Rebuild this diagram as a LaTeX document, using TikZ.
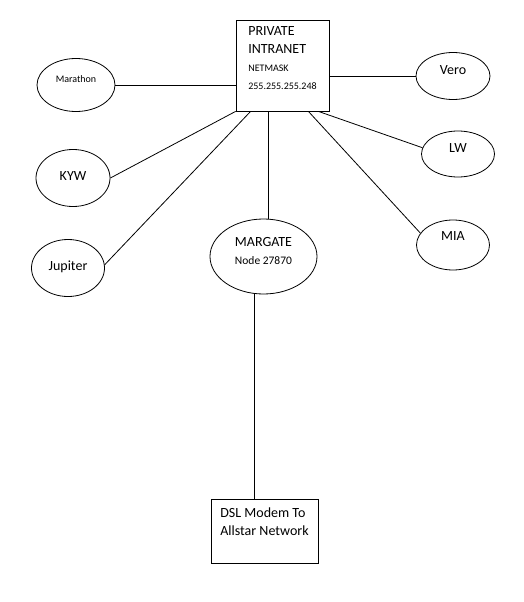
\documentclass[tikz,border=0pt]{standalone}
\usepackage{fontspec}
\setmainfont{Carlito}
\usetikzlibrary{shapes.geometric}
\newcommand\bigtxt{\fontsize{14}{18}\selectfont}
\newcommand\smalltxt{\fontsize{10}{15}\selectfont}

\begin{document}
\begin{tikzpicture}[x=1pt, y=-1pt, thick,
    host/.style={draw, ellipse, inner sep=0pt, text depth=12pt, font=\bigtxt},
    box/.style={draw, rectangle, align=left, inner sep=0pt, font=\bigtxt}]
  \useasboundingbox (0,0) rectangle (523,602);
  \node[box, minimum width=93pt, minimum height=91pt, text depth=15pt] (intr) at (282.5,65.5)
    {PRIVATE\\ INTRANET\\ \smalltxt NETMASK\\ \smalltxt 255.255.255.248};
  \node[host, minimum width=78pt, minimum height=53pt, font=\smalltxt] (mara) at (76,85) {Marathon};
  \node[host, minimum width=74pt, minimum height=57pt, text depth=4pt] (kyw) at (73,178) {KYW};
  \node[host, minimum width=73pt, minimum height=57pt, text depth=4pt] (jup) at (68,268) {Jupiter};
  \node[host, minimum width=74pt, minimum height=47pt] (vero) at (453,76) {Vero};
  \node[host, minimum width=73pt, minimum height=46pt] (lw) at (458,154) {LW};
  \node[host, minimum width=73pt, minimum height=50pt, text depth=18pt] (mia) at (453,245) {MIA};
  \node[host, align=left, minimum width=107pt, minimum height=75pt] (marg) at (263.5,256.5)
    {MARGATE\\ \fontsize{11.5}{18}\selectfont Node 27870};
  \node[box, minimum width=107pt, minimum height=64pt, text depth=19pt] (dsl) at (264.5,531)
    {DSL Modem To\\ Allstar Network};
  \draw (mara.east) -- (mara.east -| intr.west);
  \draw (kyw.east) -- (intr.south west);
  \draw (jup.5) -- ([xshift=15pt]intr.south west);
  \draw ([xshift=-14.5pt]intr.south) -- ([xshift=-14.5pt]intr.south |- marg.north);
  \draw ([xshift=-9.5pt]marg.south) -- ([xshift=-9.5pt]marg.south |- dsl.north);
  \draw (vero.west) -- (vero.west -| intr.east);
  \draw ([xshift=-11pt]intr.south east) -- (lw.170);
  \draw ([xshift=-21pt]intr.south east) -- (mia.160);
\end{tikzpicture}
\end{document}
